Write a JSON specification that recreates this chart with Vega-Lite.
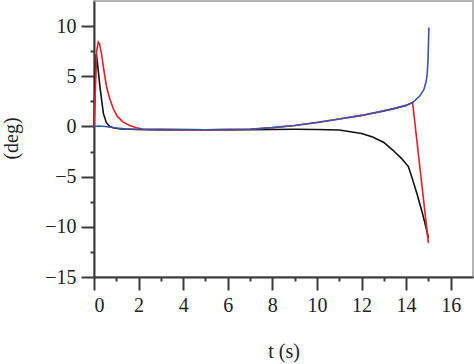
{
  "$schema": "https://vega.github.io/schema/vega-lite/v6.json",
  "width": 379,
  "height": 276,
  "autosize": {"type": "none"},
  "padding": {"left": 94, "top": 1, "right": 1, "bottom": 87},
  "background": "white",
  "config": {
    "view": {"stroke": "#b4b4b4", "strokeWidth": 2},
    "axis": {
      "grid": false,
      "domainColor": "#3a3a3a",
      "domainWidth": 2,
      "tickColor": "#3a3a3a",
      "tickWidth": 2,
      "labelFont": "Liberation Serif",
      "labelFontSize": 20,
      "labelColor": "#222222",
      "titleFont": "Liberation Serif",
      "titleFontSize": 20,
      "titleFontWeight": "normal",
      "titleColor": "#222222"
    }
  },
  "data": {
    "values": [
      {"s": "black", "t": 0, "v": 0},
      {"s": "black", "t": 0.04, "v": 4},
      {"s": "black", "t": 0.1, "v": 7.2},
      {"s": "black", "t": 0.15, "v": 6.4},
      {"s": "black", "t": 0.27, "v": 3.9},
      {"s": "black", "t": 0.42, "v": 1.3},
      {"s": "black", "t": 0.55, "v": 0.4},
      {"s": "black", "t": 0.7, "v": 0.0},
      {"s": "black", "t": 0.9, "v": -0.15},
      {"s": "black", "t": 1.2, "v": -0.25},
      {"s": "black", "t": 2, "v": -0.3},
      {"s": "black", "t": 3, "v": -0.32},
      {"s": "black", "t": 5, "v": -0.33},
      {"s": "black", "t": 7, "v": -0.32},
      {"s": "black", "t": 8, "v": -0.3},
      {"s": "black", "t": 9, "v": -0.28},
      {"s": "black", "t": 10, "v": -0.3},
      {"s": "black", "t": 11, "v": -0.36},
      {"s": "black", "t": 12, "v": -0.7},
      {"s": "black", "t": 12.5, "v": -1.05},
      {"s": "black", "t": 13, "v": -1.6},
      {"s": "black", "t": 13.4, "v": -2.35},
      {"s": "black", "t": 13.8, "v": -3.2},
      {"s": "black", "t": 14.1, "v": -4.0},
      {"s": "black", "t": 14.25, "v": -5.0},
      {"s": "black", "t": 14.5, "v": -6.8},
      {"s": "black", "t": 14.75, "v": -8.8},
      {"s": "black", "t": 14.95, "v": -10.6},
      {"s": "black", "t": 15.0, "v": -11.1},
      {"s": "red", "t": 0, "v": 0},
      {"s": "red", "t": 0.05, "v": 3},
      {"s": "red", "t": 0.12, "v": 7.5},
      {"s": "red", "t": 0.19, "v": 8.4},
      {"s": "red", "t": 0.25, "v": 8.2},
      {"s": "red", "t": 0.34, "v": 7.2},
      {"s": "red", "t": 0.45, "v": 5.5},
      {"s": "red", "t": 0.57, "v": 3.9},
      {"s": "red", "t": 0.7, "v": 2.8},
      {"s": "red", "t": 0.87, "v": 1.75},
      {"s": "red", "t": 1.05, "v": 1.0},
      {"s": "red", "t": 1.31, "v": 0.43},
      {"s": "red", "t": 1.6, "v": 0.1},
      {"s": "red", "t": 1.91, "v": -0.13},
      {"s": "red", "t": 2.2, "v": -0.28},
      {"s": "red", "t": 3, "v": -0.32},
      {"s": "red", "t": 5, "v": -0.33},
      {"s": "red", "t": 6, "v": -0.32},
      {"s": "red", "t": 7, "v": -0.28},
      {"s": "red", "t": 8, "v": -0.12},
      {"s": "red", "t": 9, "v": 0.1},
      {"s": "red", "t": 10, "v": 0.4},
      {"s": "red", "t": 11, "v": 0.75},
      {"s": "red", "t": 12, "v": 1.1},
      {"s": "red", "t": 13, "v": 1.55},
      {"s": "red", "t": 13.5, "v": 1.8},
      {"s": "red", "t": 14, "v": 2.1},
      {"s": "red", "t": 14.29, "v": 2.4},
      {"s": "red", "t": 15.0, "v": -11.6},
      {"s": "blue", "t": 0, "v": 0},
      {"s": "blue", "t": 0.2, "v": 0.05},
      {"s": "blue", "t": 0.5, "v": 0.0},
      {"s": "blue", "t": 1, "v": -0.15},
      {"s": "blue", "t": 1.5, "v": -0.25},
      {"s": "blue", "t": 2, "v": -0.3},
      {"s": "blue", "t": 3, "v": -0.32},
      {"s": "blue", "t": 5, "v": -0.33},
      {"s": "blue", "t": 6, "v": -0.32},
      {"s": "blue", "t": 7, "v": -0.28},
      {"s": "blue", "t": 8, "v": -0.12},
      {"s": "blue", "t": 9, "v": 0.1},
      {"s": "blue", "t": 10, "v": 0.4},
      {"s": "blue", "t": 11, "v": 0.75},
      {"s": "blue", "t": 12, "v": 1.1},
      {"s": "blue", "t": 13, "v": 1.55},
      {"s": "blue", "t": 13.5, "v": 1.8},
      {"s": "blue", "t": 14, "v": 2.1},
      {"s": "blue", "t": 14.3, "v": 2.4},
      {"s": "blue", "t": 14.6, "v": 3.0},
      {"s": "blue", "t": 14.8, "v": 3.7},
      {"s": "blue", "t": 14.9, "v": 4.5},
      {"s": "blue", "t": 14.95, "v": 5.3},
      {"s": "blue", "t": 14.98, "v": 6.5},
      {"s": "blue", "t": 15.0, "v": 8.0},
      {"s": "blue", "t": 15.02, "v": 9.85}
    ]
  },
  "encoding": {
    "x": {
      "field": "t", "type": "quantitative",
      "scale": {"domain": [0, 17], "nice": false, "zero": false},
      "axis": {
        "title": "t (s)",
        "values": [0,1,2,3,4,5,6,7,8,9,10,11,12,13,14,15,16],
        "labelExpr": "datum.value % 2 === 0 ? datum.label : ''",
        "tickSize": {"condition": {"test": "datum.value % 2 === 0", "value": 13}, "value": 4},
        "labelPadding": 5,
        "titleY": 74,
        "titleBaseline": "middle"
      }
    },
    "y": {
      "field": "v", "type": "quantitative",
      "scale": {"domain": [-15, 12.5], "nice": false, "zero": false},
      "axis": {
        "title": "(deg)",
        "values": [-15,-12.5,-10,-7.5,-5,-2.5,0,2.5,5,7.5,10],
        "labelExpr": "datum.value % 5 === 0 ? datum.label : ''",
        "tickSize": {"condition": {"test": "datum.value % 5 === 0", "value": 13}, "value": 4},
        "labelPadding": 5,
        "titleX": -83,
        "titleY": 137,
        "titleBaseline": "middle"
      }
    }
  },
  "layer": [
    {"transform": [{"filter": "datum.s === 'black'"}], "mark": {"type": "line", "color": "#111111", "strokeWidth": 1.6}},
    {"transform": [{"filter": "datum.s === 'red'"}], "mark": {"type": "line", "color": "#e3202a", "strokeWidth": 1.6}},
    {"transform": [{"filter": "datum.s === 'blue'"}], "mark": {"type": "line", "color": "#3b55a3", "strokeWidth": 1.6}}
  ]
}
